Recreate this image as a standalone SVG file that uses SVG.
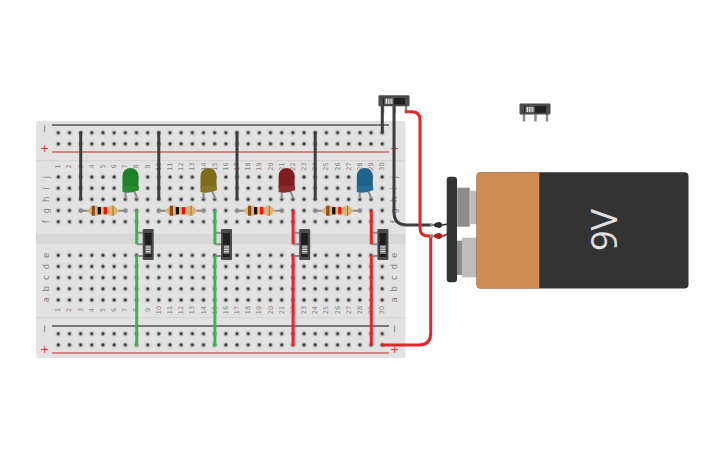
<svg xmlns="http://www.w3.org/2000/svg" width="725" height="453" viewBox="0 0 725 453">
<style>
text{font-family:"DejaVu Sans",sans-serif;fill:#808080}
.n{font-size:6.5px;text-anchor:middle;dominant-baseline:central}
.l{font-size:8.5px;text-anchor:middle;dominant-baseline:central}
.s{font-size:11px;text-anchor:middle;dominant-baseline:central}
.p{font-size:11px;text-anchor:middle;dominant-baseline:central;fill:#d33}
.w{fill:none;stroke-width:3;stroke-linecap:butt}
.blk{stroke:#3b3d40}.grn{stroke:#3db54a}.red{stroke:#e8232a}
.leg{stroke:#8c8c8c;stroke-width:2;fill:none}
</style>
<defs>
<g id="hole"><circle cx="5.58" cy="5.58" r="3" fill="#cfcfcf"/><circle cx="5.58" cy="5.58" r="1.6" fill="#333"/></g>
<pattern id="h1" patternUnits="userSpaceOnUse" x="52.72" y="127.12" width="11.17" height="11.17"><use href="#hole"/></pattern>
<pattern id="h2" patternUnits="userSpaceOnUse" x="52.72" y="171.42" width="11.17" height="11.17"><use href="#hole"/></pattern>
<pattern id="h3" patternUnits="userSpaceOnUse" x="52.72" y="249.72" width="11.17" height="11.17"><use href="#hole"/></pattern>
<pattern id="h4" patternUnits="userSpaceOnUse" x="52.72" y="328.12" width="11.17" height="11.17"><use href="#hole"/></pattern>
<g id="res">
<path d="M0 0H45" class="leg"/>
<circle cx="0" cy="0" r="2" fill="#8c8c8c"/><circle cx="45" cy="0" r="2" fill="#8c8c8c"/>
<path d="M6 0L11 -4.500Q13 -5.500 16 -5L19 -3.500H27L30 -5Q33 -5.500 34 -4.500L38.500 0L34 4.500Q33 5.500 30 5L27 3.500H19L16 5Q13 5.500 11 4.500Z" fill="#dcb478"/>
<rect x="11" y="-5" width="3.200" height="10" fill="#8a4f1c"/><rect x="17" y="-3.700" width="3.200" height="7.400" fill="#111"/><rect x="23" y="-3.700" width="3.200" height="7.400" fill="#f01010"/><rect x="31.800" y="-5" width="1" height="10" fill="#8c7a2c"/>
</g>
<g id="sw">
<path d="M-6 3.700H0M-6 15.300H0M-6 27H0" class="leg"/>
<rect width="11" height="31" rx="1" fill="#4b4b4b"/>
<rect x="2" y="4" width="7" height="24" fill="#1f1f1f"/>
<rect x="2.500" y="16" width="6" height="9" fill="#777"/>
<path d="M3 18H8M3 20.300H8M3 22.600H8" stroke="#ddd" stroke-width="1"/>
</g>
<g id="hsw">
<path d="M4.500 8V18M16 8V18M27.500 8V18" stroke="#8c8c8c" stroke-width="2.500" fill="none"/>
<rect width="31" height="11" rx="1" fill="#4b4b4b"/>
<rect x="4.500" y="2.700" width="22" height="6.500" fill="#1f1f1f"/>
<rect x="6" y="3" width="9" height="6" fill="#8a8a8a"/>
<path d="M8 3.500V8.500M10.300 3.500V8.500M12.600 3.500V8.500" stroke="#ddd" stroke-width="1"/>
</g>
<g id="ledlegs">
<path d="M-5.300 20V31M2.800 22L6.700 31" class="leg"/>
</g>
</defs>

<g id="breadboard">
<rect x="36" y="121" width="369.500" height="237" rx="2" fill="#e2e2e2"/>
<rect x="36" y="234" width="369.500" height="10" fill="#d8d8d8"/>
<path d="M36 160.700H405.500M36 317.700H405.500" stroke="#d2d2d2" stroke-width="1"/>
<path d="M52 125H389M52 326H389" stroke="#555" stroke-width="1.500"/>
<path d="M52 152H389M52 353H389" stroke="#c96a6a" stroke-width="1.500"/>
<rect x="52.720" y="127.120" width="335.100" height="22.340" fill="url(#h1)"/>
<rect x="52.720" y="171.420" width="335.100" height="55.850" fill="url(#h2)"/>
<rect x="52.720" y="249.720" width="335.100" height="55.850" fill="url(#h3)"/>
<rect x="52.720" y="328.120" width="335.100" height="22.340" fill="url(#h4)"/>
<text class="s" transform="translate(44.800 129) rotate(-90)">−</text><text class="p" x="44.500" y="148.500">+</text>
<text class="s" transform="translate(394.500 129) rotate(-90)">−</text><text class="p" x="394.500" y="148.500">+</text>
<text class="s" transform="translate(44.800 329) rotate(-90)">−</text><text class="p" x="44.500" y="349">+</text>
<text class="s" transform="translate(394.500 329) rotate(-90)">−</text><text class="p" x="394.500" y="349">+</text>
<text class="l" transform="translate(46 177) rotate(-90)">j</text><text class="l" transform="translate(46 188.300) rotate(-90)">i</text><text class="l" transform="translate(46 199.400) rotate(-90)">h</text><text class="l" transform="translate(46 210.700) rotate(-90)">g</text><text class="l" transform="translate(46 221.800) rotate(-90)">f</text>
<text class="l" transform="translate(46 255.300) rotate(-90)">e</text><text class="l" transform="translate(46 266.500) rotate(-90)">d</text><text class="l" transform="translate(46 277.700) rotate(-90)">c</text><text class="l" transform="translate(46 288.800) rotate(-90)">b</text><text class="l" transform="translate(46 300) rotate(-90)">a</text>
<text class="l" transform="translate(394 177) rotate(-90)">j</text><text class="l" transform="translate(394 188.300) rotate(-90)">i</text><text class="l" transform="translate(394 199.400) rotate(-90)">h</text><text class="l" transform="translate(394 210.700) rotate(-90)">g</text><text class="l" transform="translate(394 221.800) rotate(-90)">f</text>
<text class="l" transform="translate(394 255.300) rotate(-90)">e</text><text class="l" transform="translate(394 266.500) rotate(-90)">d</text><text class="l" transform="translate(394 277.700) rotate(-90)">c</text><text class="l" transform="translate(394 288.800) rotate(-90)">b</text><text class="l" transform="translate(394 300) rotate(-90)">a</text>
<text class="n" transform="translate(58.300 166.500) rotate(-90)">1</text><text class="n" transform="translate(69.470 166.500) rotate(-90)">2</text><text class="n" transform="translate(80.640 166.500) rotate(-90)">3</text><text class="n" transform="translate(91.810 166.500) rotate(-90)">4</text><text class="n" transform="translate(102.980 166.500) rotate(-90)">5</text><text class="n" transform="translate(114.150 166.500) rotate(-90)">6</text><text class="n" transform="translate(125.320 166.500) rotate(-90)">7</text><text class="n" transform="translate(136.490 166.500) rotate(-90)">8</text><text class="n" transform="translate(147.660 166.500) rotate(-90)">9</text><text class="n" transform="translate(158.830 166.500) rotate(-90)">10</text><text class="n" transform="translate(170 166.500) rotate(-90)">11</text><text class="n" transform="translate(181.170 166.500) rotate(-90)">12</text><text class="n" transform="translate(192.340 166.500) rotate(-90)">13</text><text class="n" transform="translate(203.510 166.500) rotate(-90)">14</text><text class="n" transform="translate(214.680 166.500) rotate(-90)">15</text><text class="n" transform="translate(225.850 166.500) rotate(-90)">16</text><text class="n" transform="translate(237.020 166.500) rotate(-90)">17</text><text class="n" transform="translate(248.190 166.500) rotate(-90)">18</text><text class="n" transform="translate(259.360 166.500) rotate(-90)">19</text><text class="n" transform="translate(270.530 166.500) rotate(-90)">20</text><text class="n" transform="translate(281.700 166.500) rotate(-90)">21</text><text class="n" transform="translate(292.870 166.500) rotate(-90)">22</text><text class="n" transform="translate(304.040 166.500) rotate(-90)">23</text><text class="n" transform="translate(315.210 166.500) rotate(-90)">24</text><text class="n" transform="translate(326.380 166.500) rotate(-90)">25</text><text class="n" transform="translate(337.550 166.500) rotate(-90)">26</text><text class="n" transform="translate(348.720 166.500) rotate(-90)">27</text><text class="n" transform="translate(359.890 166.500) rotate(-90)">28</text><text class="n" transform="translate(371.060 166.500) rotate(-90)">29</text><text class="n" transform="translate(382.230 166.500) rotate(-90)">30</text>
<text class="n" transform="translate(58.300 310) rotate(-90)">1</text><text class="n" transform="translate(69.470 310) rotate(-90)">2</text><text class="n" transform="translate(80.640 310) rotate(-90)">3</text><text class="n" transform="translate(91.810 310) rotate(-90)">4</text><text class="n" transform="translate(102.980 310) rotate(-90)">5</text><text class="n" transform="translate(114.150 310) rotate(-90)">6</text><text class="n" transform="translate(125.320 310) rotate(-90)">7</text><text class="n" transform="translate(136.490 310) rotate(-90)">8</text><text class="n" transform="translate(147.660 310) rotate(-90)">9</text><text class="n" transform="translate(158.830 310) rotate(-90)">10</text><text class="n" transform="translate(170 310) rotate(-90)">11</text><text class="n" transform="translate(181.170 310) rotate(-90)">12</text><text class="n" transform="translate(192.340 310) rotate(-90)">13</text><text class="n" transform="translate(203.510 310) rotate(-90)">14</text><text class="n" transform="translate(214.680 310) rotate(-90)">15</text><text class="n" transform="translate(225.850 310) rotate(-90)">16</text><text class="n" transform="translate(237.020 310) rotate(-90)">17</text><text class="n" transform="translate(248.190 310) rotate(-90)">18</text><text class="n" transform="translate(259.360 310) rotate(-90)">19</text><text class="n" transform="translate(270.530 310) rotate(-90)">20</text><text class="n" transform="translate(281.700 310) rotate(-90)">21</text><text class="n" transform="translate(292.870 310) rotate(-90)">22</text><text class="n" transform="translate(304.040 310) rotate(-90)">23</text><text class="n" transform="translate(315.210 310) rotate(-90)">24</text><text class="n" transform="translate(326.380 310) rotate(-90)">25</text><text class="n" transform="translate(337.550 310) rotate(-90)">26</text><text class="n" transform="translate(348.720 310) rotate(-90)">27</text><text class="n" transform="translate(359.890 310) rotate(-90)">28</text><text class="n" transform="translate(371.060 310) rotate(-90)">29</text><text class="n" transform="translate(382.230 310) rotate(-90)">30</text>
</g>

<g id="resistor1"><use href="#res" x="80.700" y="210.700"/></g>
<g id="resistor2"><use href="#res" x="158.800" y="210.700"/></g>
<g id="resistor3"><use href="#res" x="237" y="210.700"/></g>
<g id="resistor4"><use href="#res" x="315.200" y="210.700"/></g>

<g id="led-green"><use href="#ledlegs" x="130.900" y="168"/><path d="M122.500 188V176A8 8 0 0 1 138.500 176V188Z" fill="#1f8229"/><path d="M122.500 186H138.500L139 190Q131 194 122.500 192Z" fill="#2b8c35"/></g>
<g id="led-yellow"><use href="#ledlegs" x="208.900" y="168"/><path d="M200.500 188V176A8 8 0 0 1 216.500 176V188Z" fill="#7f6d1d"/><path d="M200.500 186H216.500L217 190Q209 194 200.500 192Z" fill="#88762a"/></g>
<g id="led-red"><use href="#ledlegs" x="287" y="168"/><path d="M278.600 188V176A8 8 0 0 1 294.600 176V188Z" fill="#7f1c20"/><path d="M278.600 186H294.600L295.100 190Q287 194 278.600 192Z" fill="#8a2a2d"/></g>
<g id="led-blue"><use href="#ledlegs" x="365" y="168"/><path d="M356.800 188V176A8 8 0 0 1 372.800 176V188Z" fill="#1f628a"/><path d="M356.800 186H372.800L373.300 190Q365 194 356.800 192Z" fill="#2a6c93"/></g>

<g id="switch1"><use href="#sw" x="142.700" y="229"/></g>
<g id="switch2"><use href="#sw" x="221" y="229"/></g>
<g id="switch3"><use href="#sw" x="299.200" y="229"/></g>
<g id="switch4"><use href="#sw" x="377.400" y="229"/></g>
<g id="switch5"><use href="#hsw" x="378.500" y="95.300"/></g>
<g id="switch6"><use href="#hsw" x="519.500" y="103.500"/></g>

<g id="connectors">
<path class="w blk" d="M80.700 131.500V200M158.800 131.500V200M237 131.500V200M315.200 131.500V200M382.300 106V133"/>
<path class="w grn" d="M136.700 210V244.300M136.700 255.500V346M214.900 210V244.300M214.900 255.500V346"/>
<path class="w red" d="M293.100 210V244.300M293.100 255.500V346M371.300 210V244.300M371.300 255.500V346"/>
<path class="w blk" d="M394 106V212Q394 225 407 225H431"/>
<path class="w red" d="M405 111.700H412Q420 111.700 420 120V228Q420 236 428 236H432"/>
<path class="w red" d="M382 345H419Q430.700 345 430.700 333V236"/>
<path d="M430 225H433M430 236H433" stroke="#8c8c8c" stroke-width="3"/>
</g>

<g id="battery">
<rect x="457.300" y="187.700" width="12.500" height="39" fill="#8c8c8c"/>
<rect x="469.300" y="190.700" width="8" height="33.500" fill="#bdbdbd"/>
<rect x="457" y="240.700" width="6" height="34.300" fill="#8c8c8c"/>
<rect x="462" y="237.700" width="15" height="39.600" fill="#bdbdbd"/>
<path d="M432.700 225Q436 221.500 440 222L443.500 225L440 228Q436 228.500 432.700 225Z" fill="#2e2e2e"/><path d="M443 225L447.500 224" stroke="#2e2e2e" stroke-width="1.500"/>
<path d="M432.700 236Q436 232.500 440 233L443.500 236L440 239Q436 239.500 432.700 236Z" fill="#b01c1c"/><path d="M443 236L447.500 234" stroke="#b01c1c" stroke-width="1.500"/>
<rect x="446.700" y="176.700" width="10.300" height="105.600" rx="3" fill="#333"/>
<rect x="476.500" y="172.300" width="212" height="116.200" rx="4" fill="#333"/>
<path d="M539.300 172.300H480.500A4 4 0 0 0 476.500 176.300V284.500A4 4 0 0 0 480.500 288.500H539.300Z" fill="#cf8d54"/>
<text transform="translate(603 230) rotate(-90)" text-anchor="middle" dominant-baseline="central" style="font-family:'Open Sans',sans-serif;fill:#e0e0e0;font-size:36px">9V</text>
</g>
</svg>
